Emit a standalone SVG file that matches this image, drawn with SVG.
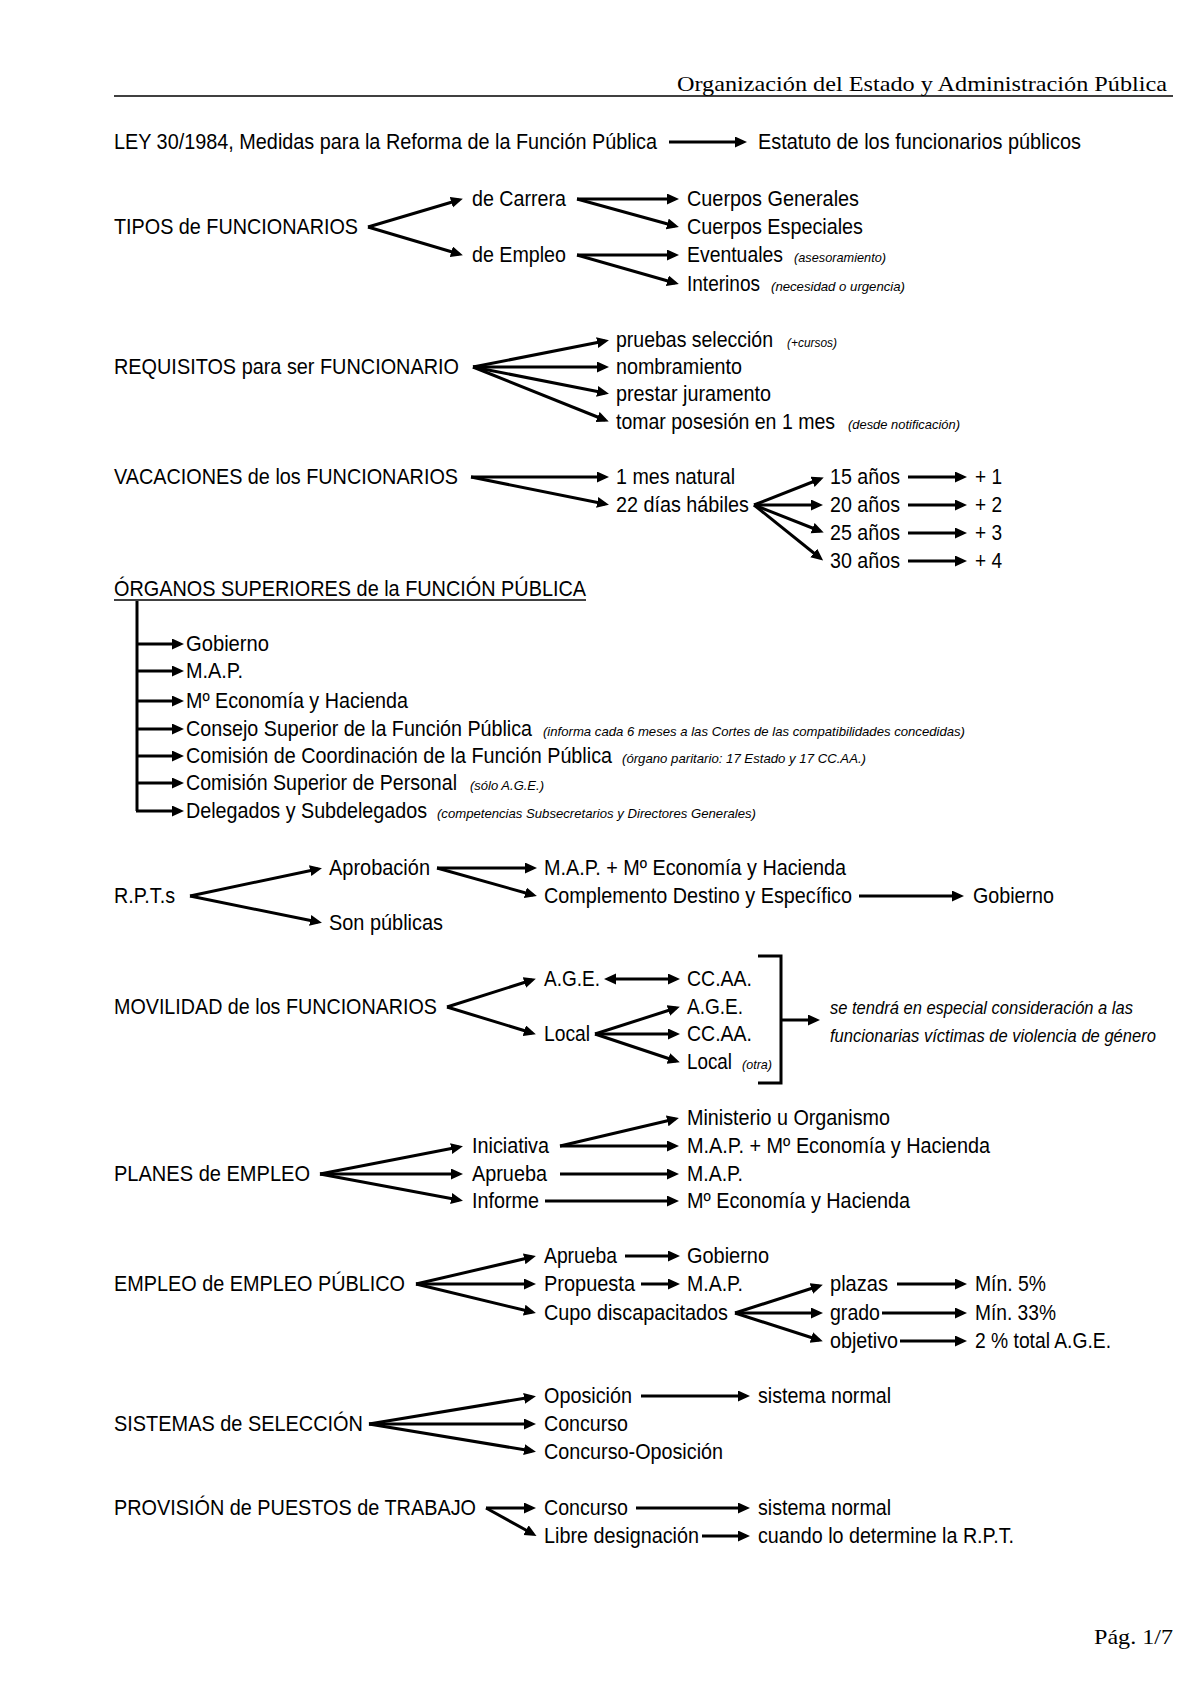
<svg xmlns="http://www.w3.org/2000/svg" width="1200" height="1698" viewBox="0 0 1200 1698">
<style>
text{font-family:"Liberation Sans Narrow","Arial Narrow","Liberation Sans",sans-serif;font-size:22px;fill:#000}
.s{font-size:13px;font-style:italic}
.i{font-size:18px;font-style:italic}
.h{font-family:"Liberation Serif",serif;font-size:22px}
.a{stroke:#000;stroke-width:3;fill:none;marker-end:url(#ah)}
.d{stroke:#000;stroke-width:3;fill:none;marker-end:url(#ah);marker-start:url(#ah)}
.p{stroke:#000;stroke-width:3;fill:none}
</style>
<defs>
<marker id="ah" markerWidth="14" markerHeight="12" refX="8" refY="5.5" orient="auto-start-reverse" markerUnits="userSpaceOnUse"><path d="M0,0 L12,5.5 L0,11 z" fill="#000"/></marker>
</defs>
<rect width="1200" height="1698" fill="#fff"/>
<g id="header">
<text class="h" x="677" y="91" textLength="490" lengthAdjust="spacingAndGlyphs">Organización del Estado y Administración Pública</text>
<line x1="114" y1="96" x2="1173" y2="96" stroke="#000" stroke-width="1.5"/>
</g>
<g id="footer"><text class="h" x="1094" y="1644" textLength="79" lengthAdjust="spacingAndGlyphs">Pág. 1/7</text></g>

<g id="nodes">
<g id="ley"><text x="114" y="149" textLength="543" lengthAdjust="spacingAndGlyphs">LEY 30/1984, Medidas para la Reforma de la Función Pública</text></g>
<g id="estatuto"><text x="758" y="149" textLength="323" lengthAdjust="spacingAndGlyphs">Estatuto de los funcionarios públicos</text></g>

<g id="tipos"><text x="114" y="234" textLength="244" lengthAdjust="spacingAndGlyphs">TIPOS de FUNCIONARIOS</text></g>
<g id="carrera"><text x="472" y="206" textLength="94" lengthAdjust="spacingAndGlyphs">de Carrera</text></g>
<g id="empleo"><text x="472" y="262" textLength="94" lengthAdjust="spacingAndGlyphs">de Empleo</text></g>
<g id="cgen"><text x="687" y="206" textLength="172" lengthAdjust="spacingAndGlyphs">Cuerpos Generales</text></g>
<g id="cesp"><text x="687" y="234" textLength="176" lengthAdjust="spacingAndGlyphs">Cuerpos Especiales</text></g>
<g id="event"><text x="687" y="262" textLength="96" lengthAdjust="spacingAndGlyphs">Eventuales</text><text class="s" x="794" y="262" textLength="92" lengthAdjust="spacingAndGlyphs">(asesoramiento)</text></g>
<g id="interinos"><text x="687" y="291" textLength="73" lengthAdjust="spacingAndGlyphs">Interinos</text><text class="s" x="771" y="291" textLength="134" lengthAdjust="spacingAndGlyphs">(necesidad o urgencia)</text></g>

<g id="requisitos"><text x="114" y="374" textLength="345" lengthAdjust="spacingAndGlyphs">REQUISITOS para ser FUNCIONARIO</text></g>
<g id="pruebas"><text x="616" y="347" textLength="157" lengthAdjust="spacingAndGlyphs">pruebas selección</text><text class="s" x="787" y="347" textLength="50" lengthAdjust="spacingAndGlyphs">(+cursos)</text></g>
<g id="nombramiento"><text x="616" y="374" textLength="126" lengthAdjust="spacingAndGlyphs">nombramiento</text></g>
<g id="prestar"><text x="616" y="401" textLength="155" lengthAdjust="spacingAndGlyphs">prestar juramento</text></g>
<g id="tomar"><text x="616" y="429" textLength="219" lengthAdjust="spacingAndGlyphs">tomar posesión en 1 mes</text><text class="s" x="848" y="429" textLength="112" lengthAdjust="spacingAndGlyphs">(desde notificación)</text></g>

<g id="vacaciones"><text x="114" y="484" textLength="344" lengthAdjust="spacingAndGlyphs">VACACIONES de los FUNCIONARIOS</text></g>
<g id="mes"><text x="616" y="484" textLength="119" lengthAdjust="spacingAndGlyphs">1 mes natural</text></g>
<g id="dias"><text x="616" y="512" textLength="133" lengthAdjust="spacingAndGlyphs">22 días hábiles</text></g>
<g id="a15"><text x="830" y="484" textLength="70" lengthAdjust="spacingAndGlyphs">15 años</text></g>
<g id="a20"><text x="830" y="512" textLength="70" lengthAdjust="spacingAndGlyphs">20 años</text></g>
<g id="a25"><text x="830" y="540" textLength="70" lengthAdjust="spacingAndGlyphs">25 años</text></g>
<g id="a30"><text x="830" y="568" textLength="70" lengthAdjust="spacingAndGlyphs">30 años</text></g>
<g id="p1"><text x="975" y="484" textLength="27" lengthAdjust="spacingAndGlyphs">+ 1</text></g>
<g id="p2"><text x="975" y="512" textLength="27" lengthAdjust="spacingAndGlyphs">+ 2</text></g>
<g id="p3"><text x="975" y="540" textLength="27" lengthAdjust="spacingAndGlyphs">+ 3</text></g>
<g id="p4"><text x="975" y="568" textLength="27" lengthAdjust="spacingAndGlyphs">+ 4</text></g>

<g id="organos"><text x="114" y="596" textLength="472" lengthAdjust="spacingAndGlyphs">ÓRGANOS SUPERIORES de la FUNCIÓN PÚBLICA</text><line x1="114" y1="600" x2="586" y2="600" stroke="#000" stroke-width="1.3"/></g>
<g id="gobierno"><text x="186" y="651" textLength="83" lengthAdjust="spacingAndGlyphs">Gobierno</text></g>
<g id="map"><text x="186" y="678" textLength="57" lengthAdjust="spacingAndGlyphs">M.A.P.</text></g>
<g id="meh"><text x="186" y="708" textLength="222" lengthAdjust="spacingAndGlyphs">Mº Economía y Hacienda</text></g>
<g id="consejo"><text x="186" y="736" textLength="346" lengthAdjust="spacingAndGlyphs">Consejo Superior de la Función Pública</text><text class="s" x="543" y="736" textLength="422" lengthAdjust="spacingAndGlyphs">(informa cada 6 meses a las Cortes de las compatibilidades concedidas)</text></g>
<g id="comcoord"><text x="186" y="763" textLength="426" lengthAdjust="spacingAndGlyphs">Comisión de Coordinación de la Función Pública</text><text class="s" x="622" y="763" textLength="244" lengthAdjust="spacingAndGlyphs">(órgano paritario: 17 Estado y 17 CC.AA.)</text></g>
<g id="comsup"><text x="186" y="790" textLength="271" lengthAdjust="spacingAndGlyphs">Comisión Superior de Personal</text><text class="s" x="470" y="790" textLength="74" lengthAdjust="spacingAndGlyphs">(sólo A.G.E.)</text></g>
<g id="delegados"><text x="186" y="818" textLength="241" lengthAdjust="spacingAndGlyphs">Delegados y Subdelegados</text><text class="s" x="437" y="818" textLength="319" lengthAdjust="spacingAndGlyphs">(competencias Subsecretarios y Directores Generales)</text></g>

<g id="rpts"><text x="114" y="903" textLength="61" lengthAdjust="spacingAndGlyphs">R.P.T.s</text></g>
<g id="aprobacion"><text x="329" y="875" textLength="101" lengthAdjust="spacingAndGlyphs">Aprobación</text></g>
<g id="sonpub"><text x="329" y="930" textLength="114" lengthAdjust="spacingAndGlyphs">Son públicas</text></g>
<g id="rmap"><text x="544" y="875" textLength="302" lengthAdjust="spacingAndGlyphs">M.A.P. + Mº Economía y Hacienda</text></g>
<g id="complemento"><text x="544" y="903" textLength="308" lengthAdjust="spacingAndGlyphs">Complemento Destino y Específico</text></g>
<g id="rgob"><text x="973" y="903" textLength="81" lengthAdjust="spacingAndGlyphs">Gobierno</text></g>

<g id="movilidad"><text x="114" y="1014" textLength="323" lengthAdjust="spacingAndGlyphs">MOVILIDAD de los FUNCIONARIOS</text></g>
<g id="mage"><text x="544" y="986" textLength="56" lengthAdjust="spacingAndGlyphs">A.G.E.</text></g>
<g id="mlocal"><text x="544" y="1041" textLength="46" lengthAdjust="spacingAndGlyphs">Local</text></g>
<g id="mccaa1"><text x="687" y="986" textLength="65" lengthAdjust="spacingAndGlyphs">CC.AA.</text></g>
<g id="mage2"><text x="687" y="1014" textLength="56" lengthAdjust="spacingAndGlyphs">A.G.E.</text></g>
<g id="mccaa2"><text x="687" y="1041" textLength="65" lengthAdjust="spacingAndGlyphs">CC.AA.</text></g>
<g id="mlocal2"><text x="687" y="1069" textLength="45" lengthAdjust="spacingAndGlyphs">Local</text><text class="s" x="742" y="1069" textLength="30" lengthAdjust="spacingAndGlyphs">(otra)</text></g>
<g id="bracket"><path class="p" d="M758,956 H781 V1083 H758"/></g>
<g id="nota"><text class="i" x="830" y="1014" textLength="303" lengthAdjust="spacingAndGlyphs">se tendrá en especial consideración a las</text><text class="i" x="830" y="1042" textLength="326" lengthAdjust="spacingAndGlyphs">funcionarias víctimas de violencia de género</text></g>

<g id="planes"><text x="114" y="1181" textLength="196" lengthAdjust="spacingAndGlyphs">PLANES de EMPLEO</text></g>
<g id="iniciativa"><text x="472" y="1153" textLength="77" lengthAdjust="spacingAndGlyphs">Iniciativa</text></g>
<g id="aprueba1"><text x="472" y="1181" textLength="75" lengthAdjust="spacingAndGlyphs">Aprueba</text></g>
<g id="informe"><text x="472" y="1208" textLength="67" lengthAdjust="spacingAndGlyphs">Informe</text></g>
<g id="ministerio"><text x="687" y="1125" textLength="203" lengthAdjust="spacingAndGlyphs">Ministerio u Organismo</text></g>
<g id="pmapmeh"><text x="687" y="1153" textLength="303" lengthAdjust="spacingAndGlyphs">M.A.P. + Mº Economía y Hacienda</text></g>
<g id="pmap"><text x="687" y="1181" textLength="56" lengthAdjust="spacingAndGlyphs">M.A.P.</text></g>
<g id="pmeh"><text x="687" y="1208" textLength="223" lengthAdjust="spacingAndGlyphs">Mº Economía y Hacienda</text></g>

<g id="eep"><text x="114" y="1291" textLength="291" lengthAdjust="spacingAndGlyphs">EMPLEO de EMPLEO PÚBLICO</text></g>
<g id="aprueba2"><text x="544" y="1263" textLength="73" lengthAdjust="spacingAndGlyphs">Aprueba</text></g>
<g id="propuesta"><text x="544" y="1291" textLength="91" lengthAdjust="spacingAndGlyphs">Propuesta</text></g>
<g id="cupo"><text x="544" y="1320" textLength="184" lengthAdjust="spacingAndGlyphs">Cupo discapacitados</text></g>
<g id="egob"><text x="687" y="1263" textLength="82" lengthAdjust="spacingAndGlyphs">Gobierno</text></g>
<g id="emap"><text x="687" y="1291" textLength="56" lengthAdjust="spacingAndGlyphs">M.A.P.</text></g>
<g id="plazas"><text x="830" y="1291" textLength="58" lengthAdjust="spacingAndGlyphs">plazas</text></g>
<g id="grado"><text x="830" y="1320" textLength="50" lengthAdjust="spacingAndGlyphs">grado</text></g>
<g id="objetivo"><text x="830" y="1348" textLength="68" lengthAdjust="spacingAndGlyphs">objetivo</text></g>
<g id="min5"><text x="975" y="1291" textLength="71" lengthAdjust="spacingAndGlyphs">Mín. 5%</text></g>
<g id="min33"><text x="975" y="1320" textLength="81" lengthAdjust="spacingAndGlyphs">Mín. 33%</text></g>
<g id="total"><text x="975" y="1348" textLength="136" lengthAdjust="spacingAndGlyphs">2 % total A.G.E.</text></g>

<g id="sistemas"><text x="114" y="1431" textLength="249" lengthAdjust="spacingAndGlyphs">SISTEMAS de SELECCIÓN</text></g>
<g id="oposicion"><text x="544" y="1403" textLength="88" lengthAdjust="spacingAndGlyphs">Oposición</text></g>
<g id="concurso1"><text x="544" y="1431" textLength="84" lengthAdjust="spacingAndGlyphs">Concurso</text></g>
<g id="concop"><text x="544" y="1459" textLength="179" lengthAdjust="spacingAndGlyphs">Concurso-Oposición</text></g>
<g id="snormal1"><text x="758" y="1403" textLength="133" lengthAdjust="spacingAndGlyphs">sistema normal</text></g>

<g id="provision"><text x="114" y="1515" textLength="362" lengthAdjust="spacingAndGlyphs">PROVISIÓN de PUESTOS de TRABAJO</text></g>
<g id="concurso2"><text x="544" y="1515" textLength="84" lengthAdjust="spacingAndGlyphs">Concurso</text></g>
<g id="libre"><text x="544" y="1543" textLength="155" lengthAdjust="spacingAndGlyphs">Libre designación</text></g>
<g id="snormal2"><text x="758" y="1515" textLength="133" lengthAdjust="spacingAndGlyphs">sistema normal</text></g>
<g id="cuando"><text x="758" y="1543" textLength="256" lengthAdjust="spacingAndGlyphs">cuando lo determine la R.P.T.</text></g>
</g>

<g id="connectors">
<line class="a" x1="669" y1="142" x2="743" y2="142"/>
<line class="a" x1="368" y1="227" x2="459" y2="200"/>
<line class="a" x1="368" y1="227" x2="459" y2="254"/>
<line class="a" x1="577" y1="199" x2="675" y2="199"/>
<line class="a" x1="577" y1="199" x2="675" y2="226"/>
<line class="a" x1="577" y1="255" x2="675" y2="255"/>
<line class="a" x1="577" y1="255" x2="675" y2="283"/>

<line class="a" x1="473" y1="367" x2="605" y2="341"/>
<line class="a" x1="473" y1="367" x2="605" y2="367"/>
<line class="a" x1="473" y1="367" x2="605" y2="393"/>
<line class="a" x1="473" y1="367" x2="605" y2="420"/>

<line class="a" x1="471" y1="477" x2="605" y2="477"/>
<line class="a" x1="471" y1="477" x2="605" y2="504"/>
<line class="a" x1="754" y1="505" x2="820" y2="479"/>
<line class="a" x1="754" y1="505" x2="819" y2="505"/>
<line class="a" x1="754" y1="505" x2="820" y2="531"/>
<line class="a" x1="754" y1="505" x2="820" y2="558"/>
<line class="a" x1="908" y1="477" x2="963" y2="477"/>
<line class="a" x1="908" y1="505" x2="963" y2="505"/>
<line class="a" x1="908" y1="533" x2="963" y2="533"/>
<line class="a" x1="908" y1="561" x2="963" y2="561"/>

<path class="p" d="M137,601 V811"/>
<line class="a" x1="136" y1="644" x2="180" y2="644"/>
<line class="a" x1="136" y1="671" x2="180" y2="671"/>
<line class="a" x1="136" y1="701" x2="180" y2="701"/>
<line class="a" x1="136" y1="729" x2="180" y2="729"/>
<line class="a" x1="136" y1="756" x2="180" y2="756"/>
<line class="a" x1="136" y1="783" x2="180" y2="783"/>
<line class="a" x1="136" y1="811" x2="180" y2="811"/>

<line class="a" x1="190" y1="896" x2="318" y2="869"/>
<line class="a" x1="190" y1="896" x2="318" y2="922"/>
<line class="a" x1="437" y1="868" x2="533" y2="868"/>
<line class="a" x1="437" y1="868" x2="533" y2="895"/>
<line class="a" x1="859" y1="896" x2="960" y2="896"/>

<line class="a" x1="447" y1="1007" x2="532" y2="980"/>
<line class="a" x1="447" y1="1007" x2="532" y2="1033"/>
<line class="d" x1="608" y1="979" x2="676" y2="979"/>
<line class="a" x1="595" y1="1034" x2="676" y2="1008"/>
<line class="a" x1="595" y1="1034" x2="676" y2="1034"/>
<line class="a" x1="595" y1="1034" x2="676" y2="1061"/>
<line class="a" x1="781" y1="1020" x2="816" y2="1020"/>

<line class="a" x1="320" y1="1174" x2="459" y2="1147"/>
<line class="a" x1="320" y1="1174" x2="459" y2="1174"/>
<line class="a" x1="320" y1="1174" x2="459" y2="1200"/>
<line class="a" x1="560" y1="1146" x2="675" y2="1119"/>
<line class="a" x1="560" y1="1146" x2="675" y2="1146"/>
<line class="a" x1="560" y1="1174" x2="675" y2="1174"/>
<line class="a" x1="545" y1="1201" x2="675" y2="1201"/>

<line class="a" x1="416" y1="1284" x2="532" y2="1257"/>
<line class="a" x1="416" y1="1284" x2="532" y2="1284"/>
<line class="a" x1="416" y1="1284" x2="532" y2="1312"/>
<line class="a" x1="625" y1="1256" x2="676" y2="1256"/>
<line class="a" x1="641" y1="1284" x2="676" y2="1284"/>
<line class="a" x1="735" y1="1313" x2="819" y2="1286"/>
<line class="a" x1="735" y1="1313" x2="819" y2="1313"/>
<line class="a" x1="735" y1="1313" x2="819" y2="1340"/>
<line class="a" x1="897" y1="1284" x2="963" y2="1284"/>
<line class="a" x1="882" y1="1313" x2="963" y2="1313"/>
<line class="a" x1="900" y1="1341" x2="963" y2="1341"/>

<line class="a" x1="369" y1="1424" x2="532" y2="1397"/>
<line class="a" x1="369" y1="1424" x2="532" y2="1424"/>
<line class="a" x1="369" y1="1424" x2="532" y2="1451"/>
<line class="a" x1="641" y1="1396" x2="746" y2="1396"/>

<line class="a" x1="486" y1="1508" x2="532" y2="1508"/>
<line class="a" x1="486" y1="1508" x2="533" y2="1534"/>
<line class="a" x1="636" y1="1508" x2="746" y2="1508"/>
<line class="a" x1="702" y1="1536" x2="746" y2="1536"/>
</g>
</svg>
